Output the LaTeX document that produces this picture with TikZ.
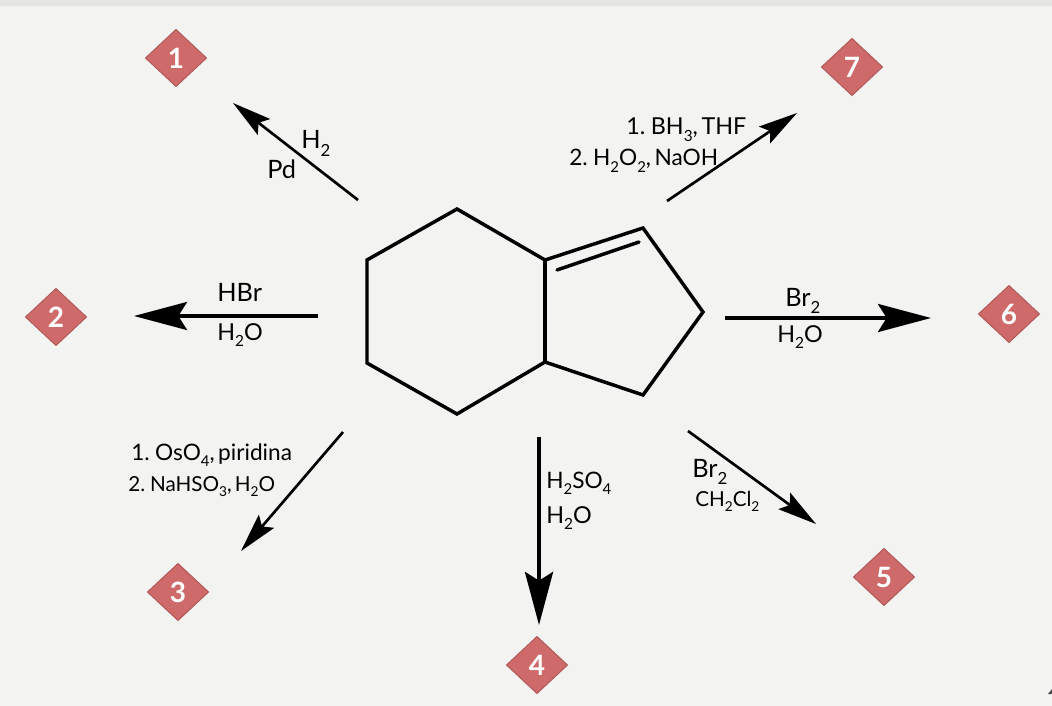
\documentclass[tikz,border=0pt]{standalone}
\usepackage{fontspec}
\setmainfont[WordSpace=0.6]{Lato}
\usetikzlibrary{shapes.geometric,arrows.meta}
\definecolor{pagebg}{HTML}{F3F3F2}
\definecolor{topband}{HTML}{E6E6E5}
\definecolor{dfill}{HTML}{CE6B6A}
\definecolor{dline}{HTML}{B35A5A}
\newcommand{\sbs}[1]{\raisebox{-0.55ex}{\fontsize{0.66em}{0.66em}\selectfont #1}}
\tikzset{
  x=0.75pt,y=-0.75pt,
  badge/.style={diamond,draw=dline,line width=0.8pt,fill=dfill,text=white,inner sep=0pt,
    minimum width=46pt,minimum height=43pt,font=\fontsize{21}{21}\selectfont\bfseries},
  bond/.style={line width=2.6pt,line join=miter,line cap=round},
  bigarrow/.style={line width=2.7pt,-{Stealth[length=39.75pt,width=21pt,inset=6.5pt]}},
  thinarrow/.style={line width=2pt,-{Stealth[length=29.25pt,width=15pt,inset=5pt]}},
  lab/.style={anchor=base west,inner sep=0pt,text=black},
  labL/.style={lab,font=\fontsize{19}{20}\selectfont},
  labH/.style={lab,font=\fontsize{17.5}{20}\selectfont},
  labM/.style={lab,font=\fontsize{17}{20}\selectfont},
  labS/.style={lab,font=\fontsize{15.5}{18}\selectfont},
}
\begin{document}
\begin{tikzpicture}
\useasboundingbox (0,0) rectangle (1052,706);
\fill[pagebg] (0,0) rectangle (1052,706);
\fill[topband] (0,0) rectangle (1052,6);
\fill[black!70] (1052,689) -- (1048,694) -- (1052,694) -- cycle;
% molecule
\coordinate (a1) at (457,209);
\coordinate (a2) at (545,260);
\coordinate (a3) at (643,228);
\coordinate (a4) at (703,312);
\coordinate (a5) at (643,395);
\coordinate (a6) at (545,362);
\coordinate (a7) at (457,414);
\coordinate (a8) at (367,363);
\coordinate (a9) at (367,260);
\coordinate (d1) at (557,270);
\coordinate (d2) at (639,242);
\draw[bond] (a1) -- (a2) -- (a3) -- (a4) -- (a5) -- (a6) -- (a7) -- (a8) -- (a9) -- cycle;
\draw[bond] (a2) -- (a6);
\draw[bond] (d1) -- (d2);
% badges
\node[badge] (n1) at (176,58) {1};
\node[badge] (n2) at (56,317) {2};
\node[badge] (n3) at (178,592) {3};
\node[badge] (n4) at (537,665) {4};
\node[badge] (n5) at (884,577) {5};
\node[badge] (n6) at (1009,314) {6};
\node[badge] (n7) at (852,67) {7};
% arrow ends
\coordinate (s1) at (358,200); \coordinate (e1) at (233,103);
\coordinate (s2) at (318,316); \coordinate (e2) at (134,316);
\coordinate (s3) at (343,432); \coordinate (e3) at (241,551);
\coordinate (s4) at (539,437); \coordinate (e4) at (539,625);
\coordinate (s5) at (688,431); \coordinate (e5) at (816,524);
\coordinate (s6) at (725,318); \coordinate (e6) at (931,318);
\coordinate (s7) at (667,201); \coordinate (e7) at (797,113);
\draw[thinarrow] (s1) -- (e1);
\draw[bigarrow] (s2) -- (e2);
\draw[thinarrow] (s3) -- (e3);
\draw[bigarrow,line width=3.2pt] (s4) -- (e4);
\draw[thinarrow] (s5) -- (e5);
\draw[bigarrow] (s6) -- (e6);
\draw[thinarrow] (s7) -- (e7);
% labels
\node[labL] (l1a) at (301,149) {H\sbs{2}};
\node[labL] (l1b) at (267,179) {Pd};
\node[labH] (l7a) at (626,135) {1. BH\sbs{3}, THF};
\node[labM] (l7b) at (569,166) {2. H\sbs{2}O\sbs{2}, NaOH};
\node[labL] (l2a) at (217,301) {HBr};
\node[labH] (l2b) at (217,340) {H\sbs{2}O};
\node[labL] (l6a) at (785,306) {Br\sbs{2}};
\node[labH] (l6b) at (777,342) {H\sbs{2}O};
\node[labM] (l3a) at (131,460) {1. OsO\sbs{4}, piridina};
\node[labS] (l3b) at (128,491) {2. NaHSO\sbs{3}, H\sbs{2}O};
\node[labM] (l4a) at (546,488) {H\sbs{2}SO\sbs{4}};
\node[labH] (l4b) at (546,523) {H\sbs{2}O};
\node[labL] (l5a) at (692,477) {Br\sbs{2}};
\node[labS] (l5b) at (695,506) {CH\sbs{2}Cl\sbs{2}};
\end{tikzpicture}
\end{document}
